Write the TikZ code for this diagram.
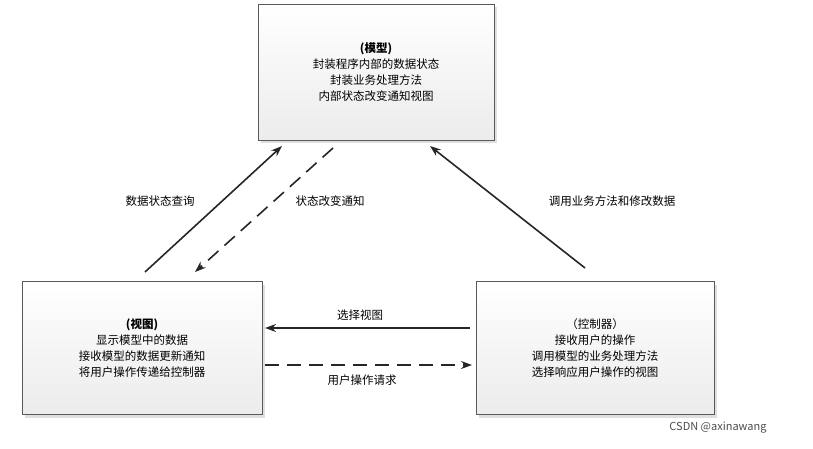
\documentclass[tikz,border=0pt]{standalone}
\usepackage{fontspec}
\setmainfont{Noto Sans CJK SC}
\usetikzlibrary{shadows,arrows.meta}
\begin{document}
\begin{tikzpicture}[x=1pt,y=-1pt,
    box/.style={
        draw=gray!70!black,
        top color=white,
        bottom color=gray!15,
        drop shadow={shadow xshift=3pt,shadow yshift=-3pt,fill=gray!50},
        align=center,
        font=\fontsize{11.5}{16}\selectfont
    },
    link/.style={
        -{Stealth[length=11pt,width=8pt]},
        line width=1.6pt,
        draw=black!85
    },
    dlink/.style={
        link,
        dash pattern=on 14pt off 8pt
    },
    lbl/.style={
        font=\fontsize{11.5}{14}\selectfont
    }
]
\useasboundingbox (0,0) rectangle (813,448);

% boxes
\node[box,minimum width=236pt,minimum height=136pt] (model) at (376,72)
    {\textbf{(模型)}\\封装程序内部的数据状态\\封装业务处理方法\\内部状态改变通知视图};
\node[box,minimum width=240pt,minimum height=133pt] (view) at (142,348)
    {\textbf{(视图)}\\显示模型中的数据\\接收模型的数据更新通知\\将用户操作传递给控制器};
\node[box,minimum width=238pt,minimum height=133pt] (ctrl) at (595,348)
    {（控制器）\\接收用户的操作\\调用模型的业务处理方法\\选择响应用户操作的视图};

% connector ends
\coordinate (v1) at (145,272);
\coordinate (m1) at (282,146);
\coordinate (m2) at (333,148);
\coordinate (v2) at (195,272);
\coordinate (c1) at (585,268);
\coordinate (m3) at (430,146);
\coordinate (c2) at (470,328);
\coordinate (v3) at (265,328);
\coordinate (v4) at (265,365);
\coordinate (c3) at (472,365);

% connectors
\draw[link] (v1) -- (m1);
\draw[dlink] (m2) -- (v2);
\draw[link] (c1) -- (m3);
\draw[link] (c2) -- (v3);
\draw[dlink] (v4) -- (c3);

% labels
\node[lbl] (q) at (160,201) {数据状态查询};
\node[lbl] (n) at (330,201) {状态改变通知};
\node[lbl] (u) at (612,201) {调用业务方法和修改数据};
\node[lbl] (s) at (360,315) {选择视图};
\node[lbl] (r) at (362,380) {用户操作请求};
\node[font=\fontsize{11}{13}\selectfont,text=gray!60!black] (wm) at (718,428) {CSDN @axinawang};
\end{tikzpicture}
\end{document}
